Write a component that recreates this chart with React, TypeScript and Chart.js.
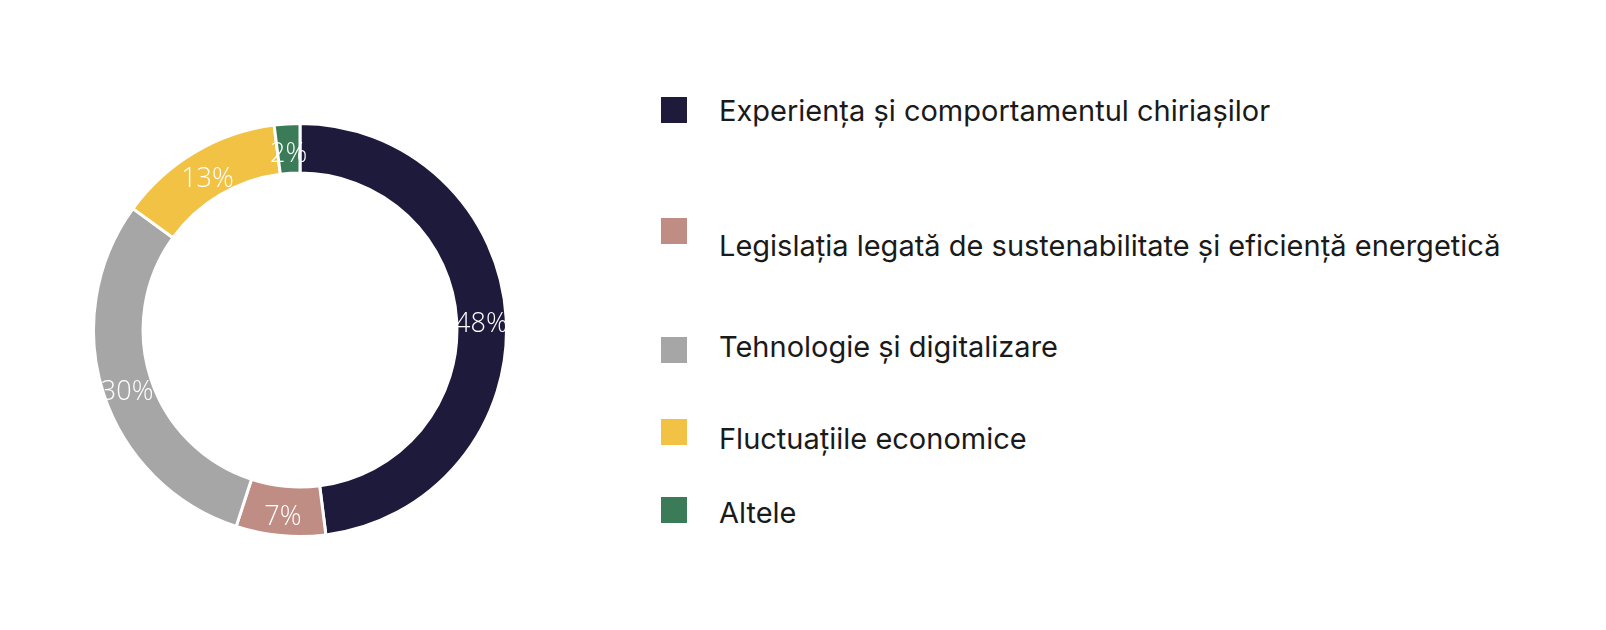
import { useEffect, useRef } from "react";
import { Chart, registerables, ArcElement } from "chart.js";

Chart.register(...registerables);

const categories = [
  "Experiența și comportamentul chiriașilor",
  "Legislația legată de sustenabilitate și eficiență energetică",
  "Tehnologie și digitalizare",
  "Fluctuațiile economice",
  "Altele",
];
const shares = [48, 7, 30, 13, 2];
const colors = ["#1e1a3c", "#c08d84", "#a6a6a6", "#f1c244", "#3b7b58"];

// legend rows sit at uneven heights in the original
const legendSquareTops = [89, 210, 329, 411, 489];
const legendBaselines = [113, 248, 349, 441, 515];

const pctLabels = {
  id: "pctLabels",
  afterDatasetsDraw(chart: Chart) {
    const { ctx } = chart;
    const meta = chart.getDatasetMeta(0);
    ctx.save();
    ctx.fillStyle = "#ffffff";
    ctx.font = "300 27px 'Open Sans', sans-serif";
    ctx.textAlign = "center";
    ctx.textBaseline = "middle";
    meta.data.forEach((el, i) => {
      const pos = (el as ArcElement).tooltipPosition(false);
      ctx.fillText(shares[i] + "%", pos.x, pos.y + 6);
    });
    ctx.restore();
  },
};

function Donut() {
  const chartRef = useRef<HTMLCanvasElement>(null);
  const chartInstance = useRef<Chart | null>(null);

  useEffect(() => {
    if (!chartRef.current) return;
    if (chartInstance.current) chartInstance.current.destroy();
    const ctx = chartRef.current.getContext("2d");
    if (!ctx) return;

    chartInstance.current = new Chart(ctx, {
      type: "doughnut",
      data: {
        labels: categories,
        datasets: [
          {
            data: shares,
            backgroundColor: colors,
            borderColor: "#ffffff",
            borderWidth: 3,
          },
        ],
      },
      options: {
        responsive: true,
        maintainAspectRatio: false,
        animation: false,
        cutout: "76%",
        layout: { padding: 0 },
        plugins: {
          legend: { display: false },
          tooltip: { enabled: false },
        },
      },
      plugins: [pctLabels],
    });

    return () => {
      if (chartInstance.current) {
        chartInstance.current.destroy();
        chartInstance.current = null;
      }
    };
  }, []);

  return (
    <div style={{ position: "absolute", left: 84, top: 114, width: 416, height: 416 }}>
      <canvas ref={chartRef}></canvas>
    </div>
  );
}

export default function App() {
  return (
    <div style={{ position: "relative", width: 1590, height: 614, background: "#fff" }}>
      <Donut />
      {categories.map((c, i) => (
        <div key={c}>
          <div
            style={{
              position: "absolute",
              left: 653,
              top: legendSquareTops[i],
              width: 26,
              height: 26,
              background: colors[i],
            }}
          />
          <div
            style={{
              position: "absolute",
              left: 711,
              top: legendBaselines[i] - 25,
              fontFamily: "Inter, sans-serif",
              fontSize: 29,
              lineHeight: "29px",
              color: "#1a1a1a",
              whiteSpace: "nowrap",
            }}
          >
            {c}
          </div>
        </div>
      ))}
    </div>
  );
}
